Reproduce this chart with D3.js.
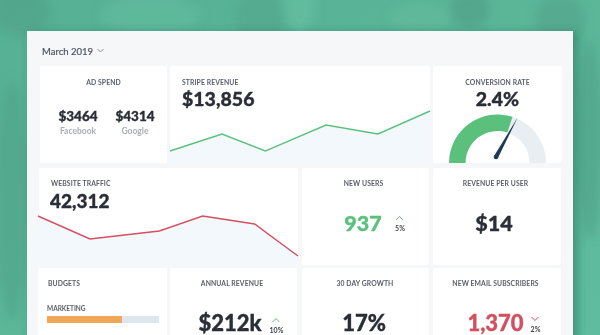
<!DOCTYPE html>
<html><head><meta charset="utf-8">
<script src="https://cdn.jsdelivr.net/npm/d3@7"></script>
<style>
html,body{margin:0;padding:0;overflow:hidden;background:#5ab597;}
svg{display:block;font-family:Lato,"Open Sans",sans-serif;}
</style></head>
<body>
<svg id="c" width="600" height="335"></svg>
<script>
// ---- data ----
const periodLabel = "March 2019";
const adSpendLabels = ["Facebook", "Google"];
const adSpendValues = [3464, 4314];
const stripeTotal = 13856;
const stripeDays = [1, 7, 12, 19, 25, 31];
const stripeValues = [120, 290, 120, 380, 290, 520];
const conversionRate = 2.4;
const gaugeFraction = 0.6;
const needleFraction = 0.66;
const trafficTotal = 42312;
const trafficDays = [1, 7, 15, 20, 26, 31];
const trafficValues = [490, 260, 340, 490, 410, 90];
const newUsers = 937, newUsersChange = 5;
const revenuePerUser = 14;
const budgetNames = ["MARKETING"];
const budgetUsed = [0.67];
const annualRevenue = "$212k", annualChange = 10;
const growth30 = 17;
const emailSubs = 1370, emailChange = -2;

const svg = d3.select("#c");
const defs = svg.append("defs");

// background
const bg = defs.append("linearGradient").attr("id","bg").attr("x1",0).attr("x2",1).attr("y1",0).attr("y2",1);
bg.append("stop").attr("offset",0).attr("stop-color","#56b094");
bg.append("stop").attr("offset",0.5).attr("stop-color","#5bb798");
bg.append("stop").attr("offset",1).attr("stop-color","#5fbc9e");
svg.append("rect").attr("width",600).attr("height",335).attr("fill","url(#bg)");
const blur = defs.append("filter").attr("id","blur").attr("x","-50%").attr("y","-50%").attr("width","200%").attr("height","200%");
blur.append("feGaussianBlur").attr("stdDeviation",5);
const blobs = [[20,10,30,25,"#4fa087"],[150,15,50,20,"#62bc9f"],[260,20,25,30,"#52a58b"],[300,5,15,30,"#68c1a3"],[420,18,30,15,"#62ba9d"],[470,10,20,18,"#4f9c84"],[560,20,25,25,"#52a189"],[590,140,12,100,"#4e9e86"],[12,200,16,120,"#50a288"]];
svg.append("g").attr("filter","url(#blur)").selectAll("ellipse").data(blobs).join("ellipse")
  .attr("cx",d=>d[0]).attr("cy",d=>d[1]).attr("rx",d=>d[2]).attr("ry",d=>d[3]).attr("fill",d=>d[4]).attr("opacity",0.6);

// panel shadow + panel
const sh = defs.append("filter").attr("id","sh").attr("x","-10%").attr("y","-10%").attr("width","120%").attr("height","130%");
sh.append("feDropShadow").attr("dx",4).attr("dy",2).attr("stdDeviation",5).attr("flood-color","#1d4f40").attr("flood-opacity",0.4);
svg.append("rect").attr("x",27).attr("y",31).attr("width",546).attr("height",330).attr("fill","#f5f7f9").attr("filter","url(#sh)");

// header
svg.append("text").attr("x",42).attr("y",54.5).attr("font-size",9.5).attr("font-weight",400).attr("fill","#4f5664")
  .attr("stroke","#4f5664").attr("stroke-width",0.2).text(periodLabel);
svg.append("path").attr("d","M97.5,49 L100.5,52 L103.5,49").attr("fill","none").attr("stroke","#8a909a").attr("stroke-width",1);

// cards
const cards = [
 {x:40,y:66,w:127,h:97},{x:170,y:66,w:260,h:97},{x:433,y:66,w:129,h:97},
 {x:39,y:168,w:259,h:97},{x:302,y:168,w:127,h:97},{x:433,y:168,w:128,h:97},
 {x:38,y:268,w:129,h:80},{x:170,y:268,w:127,h:80},{x:302,y:268,w:127,h:80},{x:433,y:268,w:128,h:80}
];
svg.append("g").selectAll("rect").data(cards).join("rect")
  .attr("x",d=>d.x).attr("y",d=>d.y).attr("width",d=>d.w).attr("height",d=>d.h).attr("rx",2).attr("fill","#ffffff");

function title(x,y,t,anchor){
  svg.append("text").attr("x",x).attr("y",y).attr("text-anchor",anchor||"start").attr("font-size",6.8).attr("font-weight",700)
    .attr("letter-spacing",0.1).attr("fill","#5a606b").text(t);
}
function big(x,y,t,size,color,anchor){
  svg.append("text").attr("x",x).attr("y",y).attr("text-anchor",anchor||"start").attr("font-size",size).attr("font-weight",900)
    .attr("fill",color||"#2a2e37").attr("stroke",color||"#2a2e37").attr("stroke-width",0.35).text(t);
}
const fmt = d3.format(",");

// Ad spend
title(103.5,84.5,"AD SPEND","middle");
const adX = d3.scalePoint().domain(adSpendLabels).range([78,135]);
adSpendLabels.forEach((l,i)=>{
  big(adX(l),121,"$"+adSpendValues[i],13.5,"#2a2e37","middle");
  svg.append("text").attr("x",adX(l)).attr("y",134).attr("text-anchor","middle").attr("font-size",8.5).attr("font-weight",700).attr("fill","#a9aeb5").text(l);
});

// Stripe revenue
title(182,84.5,"STRIPE REVENUE");
big(182,106,"$"+fmt(stripeTotal),19.5);
{
  const x = d3.scaleLinear().domain([1,31]).range([170,430]);
  const y = d3.scaleLinear().domain([0,600]).range([163,103]);
  const pts = stripeDays.map((d,i)=>[d,stripeValues[i]]);
  svg.append("path").datum(pts).attr("fill","#f2f8fb")
    .attr("d",d3.area().x(d=>x(d[0])).y0(163).y1(d=>y(d[1])));
  svg.append("path").datum(pts).attr("fill","none").attr("stroke","#5cc07d").attr("stroke-width",1.4)
    .attr("d",d3.line().x(d=>x(d[0])).y(d=>y(d[1])));
}

// Conversion gauge
title(497.5,84.5,"CONVERSION RATE","middle");
big(497.5,106,conversionRate+"%",19.5,"#2a2e37","middle");
{
  const cx=497.5, cy=163;
  const g = svg.append("g").attr("transform",`translate(${cx},${cy})`);
  const ang = d3.scaleLinear().domain([0,1]).range([-Math.PI/2,Math.PI/2]);
  const arc = d3.arc().innerRadius(32).outerRadius(48.5);
  g.append("path").attr("d",arc({startAngle:ang(0),endAngle:ang(1)})).attr("fill","#e9eef3");
  g.append("path").attr("d",arc({startAngle:ang(0),endAngle:ang(gaugeFraction)})).attr("fill","#5cc07d");
  const a = ang(needleFraction);
  const px=-1.5, py=-6, L=45;
  const tx = px+L*Math.sin(a), ty = py-L*Math.cos(a);
  const nx = Math.cos(a), ny = Math.sin(a);
  g.append("path").attr("d",`M${px+2.2*nx},${py+2.2*ny} L${tx},${ty} L${px-2.2*nx},${py-2.2*ny} Z`).attr("fill","#1e3a58");
  g.append("circle").attr("cx",px).attr("cy",py).attr("r",2.3).attr("fill","#1e3a58");
  svg.append("rect").attr("x",433).attr("y",163).attr("width",129).attr("height",5).attr("fill","#f5f7f9");
}

// Website traffic
title(51,186,"WEBSITE TRAFFIC");
big(50,207.5,fmt(trafficTotal),19);
{
  const x = d3.scaleLinear().domain([1,31]).range([38,298]);
  const y = d3.scaleLinear().domain([0,1000]).range([265,165]);
  const pts = trafficDays.map((d,i)=>[d,trafficValues[i]]);
  svg.append("path").datum(pts).attr("fill","#f2f8fb")
    .attr("d",d3.area().x(d=>x(d[0])).y0(265).y1(d=>y(d[1])));
  svg.append("path").datum(pts).attr("fill","none").attr("stroke","#d2505f").attr("stroke-width",1.4)
    .attr("d",d3.line().x(d=>x(d[0])).y(d=>y(d[1])));
}

function change(x, yArrow, v, color){
  const up = v>0;
  svg.append("path").attr("d", up ? `M${x-3.5},${yArrow+2} L${x},${yArrow-1.5} L${x+3.5},${yArrow+2}` : `M${x-3.5},${yArrow-2} L${x},${yArrow+1.5} L${x+3.5},${yArrow-2}`)
    .attr("fill","none").attr("stroke",color).attr("stroke-width",1);
  svg.append("text").attr("x",x+0.5).attr("y",yArrow+12.5).attr("text-anchor","middle").attr("font-size",7).attr("font-weight",700).attr("fill","#3b3f47").text(Math.abs(v)+"%");
}

// New users
title(363.5,186,"NEW USERS","middle");
big(363,231,newUsers,21.5,"#5cc07d","middle");
change(399.5,218,newUsersChange,"#5cc07d");

// Revenue per user
title(495.5,186,"REVENUE PER USER","middle");
big(494,231,"$"+revenuePerUser,21.5,"#2a2e37","middle");

// Budgets
title(48,286,"BUDGETS");
{
  const x = d3.scaleLinear().domain([0,1]).range([47,159]);
  budgetNames.forEach((n,i)=>{
    svg.append("text").attr("x",47).attr("y",311).attr("font-size",6.5).attr("font-weight",700).attr("fill","#5a606b").text(n);
    svg.append("rect").attr("x",x(0)).attr("y",316).attr("width",x(1)-x(0)).attr("height",7).attr("fill","#dfe7ee");
    svg.append("rect").attr("x",x(0)).attr("y",316).attr("width",x(budgetUsed[i])-x(0)).attr("height",7).attr("fill","#f0a75a");
  });
}

// Annual revenue
title(232,286,"ANNUAL REVENUE","middle");
big(230,331,annualRevenue,22,"#2a2e37","middle");
change(276,320,annualChange,"#5cc07d");

// 30 day growth
title(365,286,"30 DAY GROWTH","middle");
big(364,331,growth30+"%",22,"#2a2e37","middle");

// New email subscribers
title(495.5,286,"NEW EMAIL SUBSCRIBERS","middle");
big(495.5,331,fmt(emailSubs),22,"#d4505f","middle");
change(535,319,emailChange,"#d4505f");
</script>
</body></html>
